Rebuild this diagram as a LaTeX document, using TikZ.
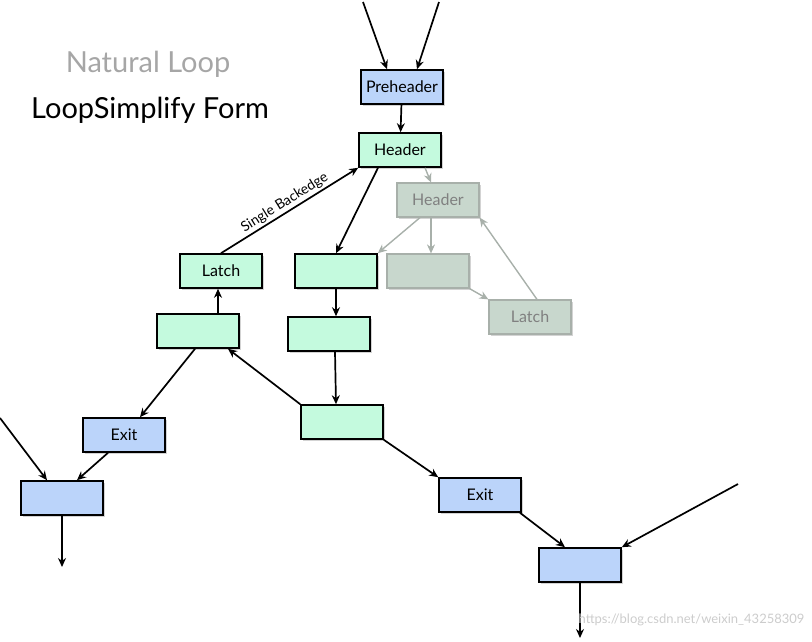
\documentclass[tikz,border=0pt]{standalone}
\usepackage{fontspec}
\setmainfont{Lato}
\usetikzlibrary{arrows.meta,shadows}
\definecolor{bl}{HTML}{BBD4FA}
\definecolor{gr}{HTML}{C4FADE}
\definecolor{gy}{HTML}{C8D7CD}
\definecolor{gyl}{HTML}{A8B0AA}
\tikzset{
 box/.style={draw=black,line width=1.6pt,minimum width=82pt,minimum height=34pt,inner sep=0pt,font=\fontsize{16}{16}\selectfont,drop shadow={shadow xshift=2pt,shadow yshift=-2pt,opacity=.35}},
 bb/.style={box,fill=bl},
 gb/.style={box,fill=gr},
 yb/.style={box,fill=gy,draw=gyl,text=gray,line width=1.2pt},
 e/.style={-{Stealth[length=9pt,width=8pt]},line width=1.7pt},
 ge/.style={-{Stealth[length=9pt,width=8pt]},line width=1.4pt,draw=gyl}
}
\begin{document}
\begin{tikzpicture}[x=1pt,y=-1pt]
\useasboundingbox (0,0) rectangle (812,641);
\node[text=gray!70,font=\fontsize{29}{29}\selectfont] (t1) at (148,64) {Natural Loop};
\node[font=\fontsize{29}{29}\selectfont] (t2) at (150,110) {LoopSimplify Form};
\node[bb] (ph) at (402,87) {Preheader};
\node[gb] (h) at (400,150) {Header};
\node[yb] (gh) at (438,200) {Header};
\node[gb] (l) at (221,271) {Latch};
\node[gb] (b) at (336,271) {};
\node[yb] (gm) at (428,271) {};
\node[yb] (gl) at (530,317) {Latch};
\node[gb] (c) at (198,331) {};
\node[gb] (d) at (329,334) {};
\node[gb] (ee) at (342,422) {};
\node[bb] (x1) at (124,435) {Exit};
\node[bb] (bl) at (62,498) {};
\node[bb] (x2) at (480,495) {Exit};
\node[bb] (br) at (580,565) {};
\coordinate (i1) at (363,2); \coordinate (i2) at (439,2);
\coordinate (i3) at (0,418); \coordinate (i4) at (738,484);
\coordinate (o1) at (62,567); \coordinate (o2) at (580,638);
\draw[e] (i1) -- (ph.north -| 387,0);
\draw[e] (i2) -- (ph.north -| 417,0);
\draw[e] (ph) -- (h);
\draw[ge] (h.south -| 425,0) -- (gh.north -| 431,0);
\draw[ge] (gh.south -| 420,0) -- (b.north east);
\draw[ge] (gh.south -| 431,0) -- (gm.north -| 431,0);
\draw[ge] (gm.south east) -- (gl.north west);
\draw[ge] (gl.north -| 537,0) -- (gh.south east);
\draw[e] (h.south -| 378,0) -- (b.north);
\draw[e] (l.north) -- node[sloped,above,inner sep=2pt,font=\fontsize{14}{14}\selectfont]{Single Backedge} (h.south west);
\draw[e] (c.north -| 218,0) -- (l.south -| 218,0);
\draw[e] (b) -- (d.north -| 336,0);
\draw[e] (d.south -| 335,0) -- (ee.north -| 336,0);
\draw[e] (ee.north west) -- (c.south -| 228,0);
\draw[e] (c.south -| 195,0) -- (x1.north -| 140,0);
\draw[e] (x1.south -| 108,0) -- (bl.north -| 77,0);
\draw[e] (i3) -- (bl.north -| 47,0);
\draw[e] (bl) -- (o1);
\draw[e] (ee.south east) -- (x2.north west);
\draw[e] (x2.south -| 520,0) -- (br.north -| 565,0);
\draw[e] (i4) -- (br.north east);
\draw[e] (br) -- (o2);
\node[text=gray!40,font=\fontsize{13}{13}\selectfont,anchor=east] (wm) at (808,620) {https://blog.csdn.net/weixin\_43258309};
\end{tikzpicture}
\end{document}
